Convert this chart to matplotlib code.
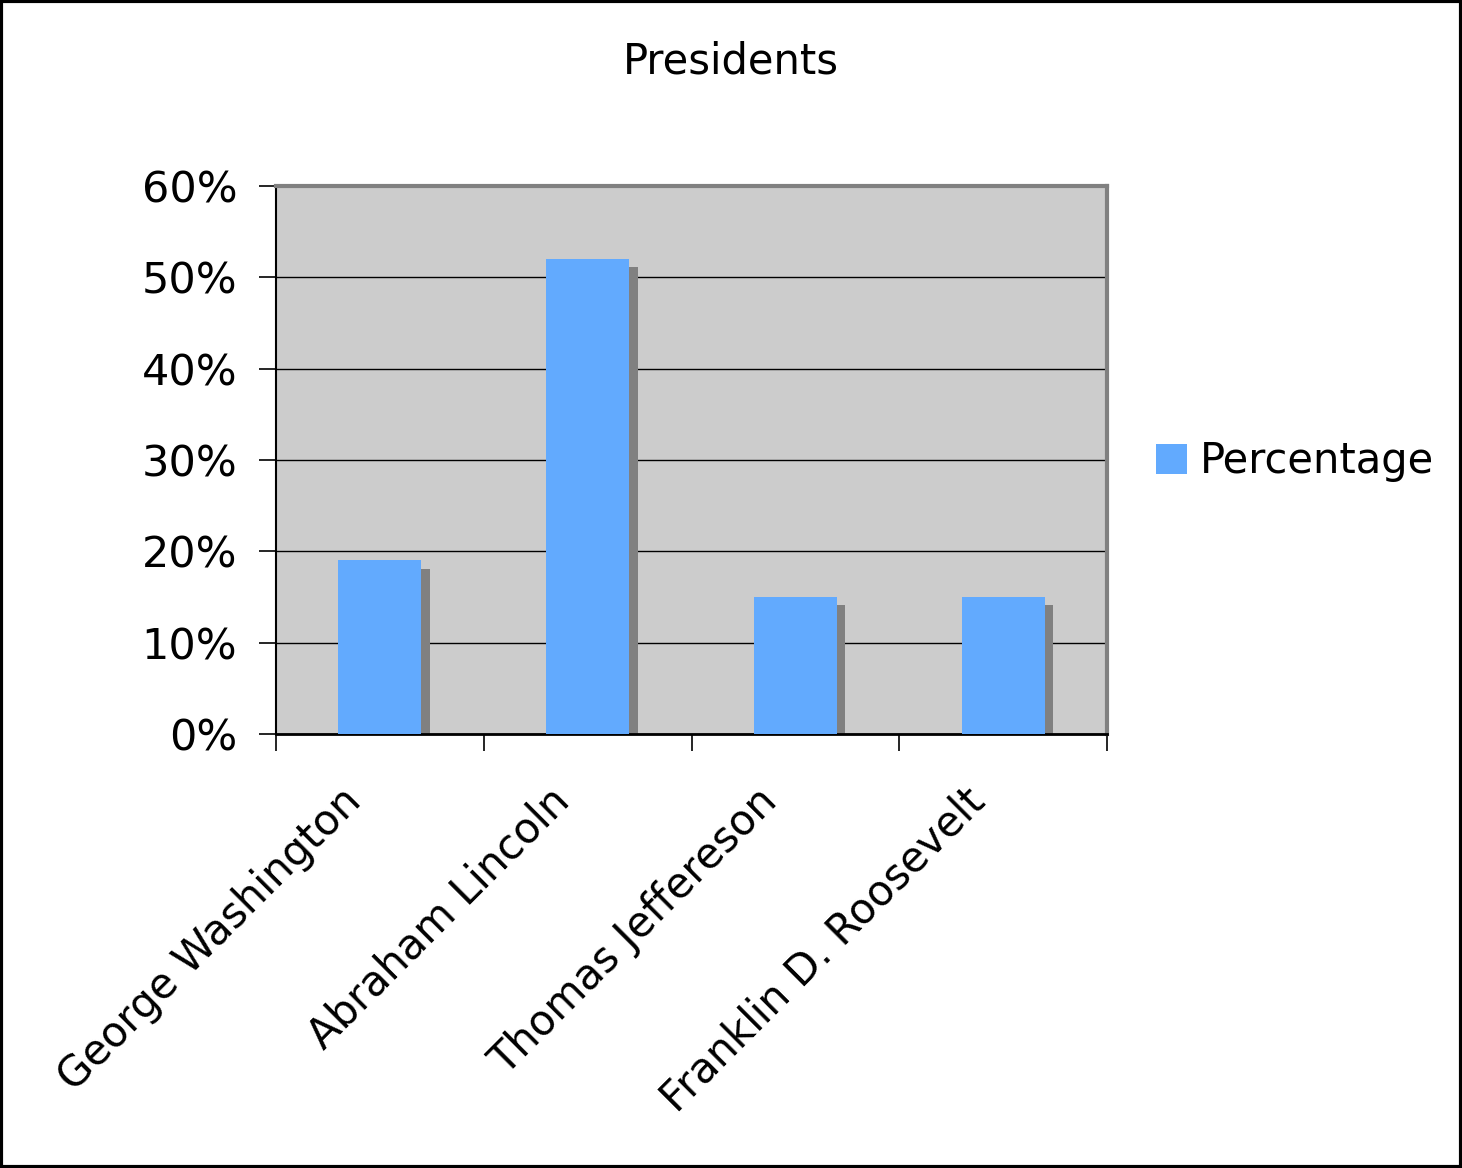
import numpy as np
import matplotlib
matplotlib.use("Agg")
import matplotlib.pyplot as plt
from matplotlib.patches import Rectangle
from matplotlib.transforms import ScaledTranslation

presidents = ["George Washington", "Abraham Lincoln", "Thomas Jeffereson", "Franklin D. Roosevelt"]
percentage = [19, 52, 15, 15]
yticks = [0, 10, 20, 30, 40, 50, 60]

plt.rcParams['font.family'] = ['DejaVu Sans']

fig = plt.figure(figsize=(14.62, 11.68), dpi=100)
ax = fig.add_axes([0.1888, 0.3716, 0.5684, 0.4692])
ax.set_facecolor("#cccccc")

x = np.arange(len(presidents))
w = 0.4
# shadow behind each bar
ax.bar(x + 0.04, np.array(percentage) - 0.9, width=w, color="#808080", zorder=2)
ax.bar(x, percentage, width=w, color="#62aafe", zorder=3, label="Percentage")

ax.set_xlim(-0.5, len(presidents) - 0.5)
ax.set_ylim(0, 60)
ax.set_yticks(yticks)
ax.set_yticklabels([f"{v}%" for v in yticks], fontsize=31)
ax.yaxis.grid(True, color="black", linewidth=1)
ax.set_axisbelow(True)
ax.tick_params(axis="y", length=12, width=1.2, pad=16)

# category labels drawn as text so they can be nudged
ax.set_xticks(np.arange(-0.5, len(presidents)))
ax.set_xticklabels([])
ax.tick_params(axis="x", length=12, width=1.2)
shift = ScaledTranslation(-0.40, -0.46, fig.dpi_scale_trans)
for xi, name in zip(x, presidents):
    ax.text(xi, 0, name, transform=ax.get_xaxis_transform() + shift,
            rotation=45, ha="right", va="top", rotation_mode="anchor", fontsize=30)

for s in ["top", "right"]:
    ax.spines[s].set_color("#808080")
    ax.spines[s].set_linewidth(3)
ax.spines["left"].set_color("black")
ax.spines["left"].set_linewidth(1.5)
ax.spines["bottom"].set_color("black")
ax.spines["bottom"].set_linewidth(2)

fig.text(0.5, 0.947, "Presidents", ha="center", va="center", fontsize=30)

fig.legend(loc="center left", bbox_to_anchor=(0.765, 0.605), frameon=False,
           fontsize=30, handlelength=0.75, handleheight=0.75, handletextpad=0.3)

fig.patches.append(Rectangle((0.001, 0.001), 0.998, 0.998, transform=fig.transFigure,
                             fill=False, edgecolor="black", linewidth=3))

fig.savefig("out.png", dpi=100)
